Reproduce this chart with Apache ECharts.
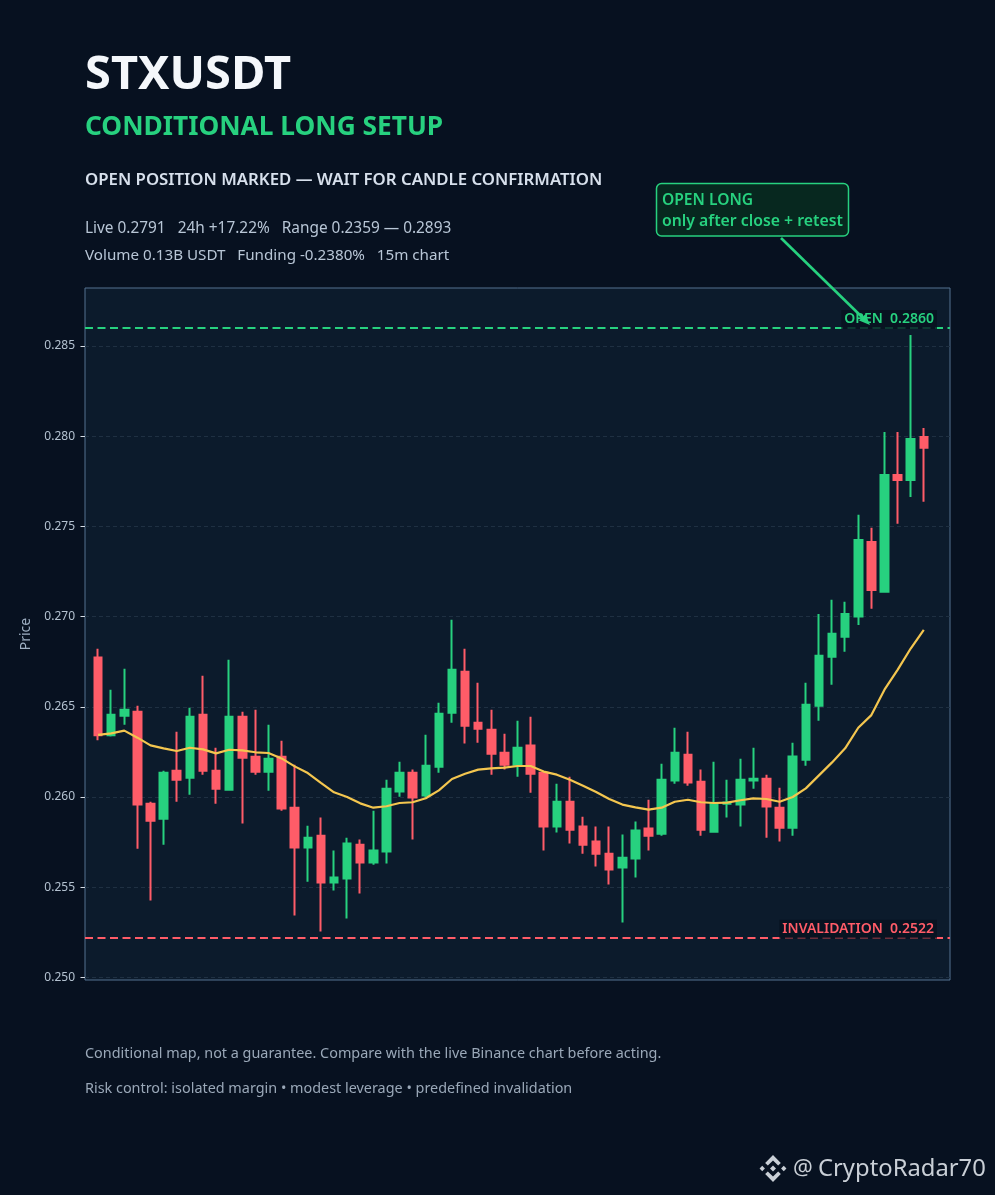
<!DOCTYPE html>
<html><head><meta charset="utf-8">
<style>html,body{margin:0;padding:0;background:#071120}#c{width:995px;height:1195px}</style>
<script src="https://cdn.jsdelivr.net/npm/echarts@6/dist/echarts.min.js"></script>
</head><body><div id="c"></div>
<script>
// Values: [open, close, low, high]
const candles = [
[.26773,.26342,.26314,.26822],[.26342,.26456,.26336,.26594],[.26450,.26484,.26401,.26711],[.26473,.25958,.25714,.26506],
[.25963,.25869,.25426,.25974],[.25880,.26135,.25736,.26146],[.26146,.26096,.25974,.26362],[.26107,.26445,.26013,.26495],
[.26456,.26146,.26124,.26672],[.26146,.26046,.25963,.26273],[.26041,.26445,.26035,.26761],[.26445,.26218,.25853,.26473],
[.26223,.26140,.26124,.26484],[.26140,.26212,.26035,.26401],[.26223,.25936,.25924,.26312],[.25941,.25720,.25343,.26179],
[.25720,.25775,.25531,.25841],[.25786,.25526,.25255,.25886],[.25526,.25554,.25482,.25703],[.25548,.25742,.25327,.25775],
[.25736,.25637,.25465,.25764],[.25637,.25703,.25625,.25924],[.25698,.26046,.25631,.26096],[.26030,.26135,.26002,.26196],
[.26135,.25997,.25764,.26152],[.26008,.26174,.25997,.26345],[.26168,.26462,.26135,.26523],[.26467,.26705,.26412,.26983],
[.26694,.26395,.26296,.26822],[.26412,.26379,.26301,.26633],[.26373,.26240,.26124,.26484],[.26246,.26179,.26152,.26351],
[.26179,.26273,.26113,.26423],[.26285,.26129,.26024,.26445],[.26135,.25836,.25703,.26135],[.25836,.25974,.25803,.26074],
[.25974,.25819,.25742,.26113],[.25836,.25736,.25686,.25891],[.25753,.25686,.25615,.25836],[.25686,.25598,.25515,.25836],
[.25609,.25664,.25304,.25792],[.25659,.25814,.25554,.25864],[.25825,.25786,.25703,.25985],[.25797,.26096,.25786,.26185],
[.26091,.26246,.26074,.26384],[.26235,.26080,.26063,.26362],[.26085,.25819,.25786,.26152],[.25808,.25967,.25803,.26196],
[.25963,.25970,.25886,.26096],[.25958,.26096,.25836,.26212],[.26091,.26101,.26046,.26273],[.26101,.25947,.25775,.26124],
[.25941,.25830,.25753,.26052],[.25830,.26224,.25786,.26301],[.26207,.26511,.26174,.26633],[.26506,.26783,.26423,.27015],
[.26777,.26905,.26622,.27093],[.26888,.27015,.26805,.27082],[.27001,.27425,.26954,.27564],[.27414,.27148,.27043,.27492],
[.27137,.27785,.27132,.28023],[.27785,.27757,.27514,.28023],[.27757,.27984,.27663,.28560],[.27995,.27935,.27636,.28045]
];
const maLine = [
.26344,.26353,.26368,.26329,.26286,.26270,.26255,.26273,.26264,.26242,.26262,.26259,.26248,.26244,.26214,.26170,
.26133,.26078,.26026,.26000,.25965,.25941,.25949,.25967,.25971,.25993,.26037,.26100,.26129,.26152,.26159,.26163,
.26172,.26172,.26141,.26124,.26096,.26063,.26028,.25989,.25958,.25943,.25930,.25941,.25974,.25985,.25971,.25967,
.25969,.25982,.25993,.25989,.25974,.26000,.26048,.26120,.26192,.26270,.26384,.26454,.26595,.26705,.26823,.26927
];
const yTicks = [.250,.255,.260,.265,.270,.275,.280,.285];
const openLevel = 0.2860, invalidationLevel = 0.2522;
const leftPad = 1, rightPad = 2;

const GREEN='#27d17f', RED='#ff5c68', FF='"Noto Sans", sans-serif';
const cats = Array.from({length: leftPad+candles.length+rightPad},(_, i)=>String(i));
const pad = (arr)=>[...Array(leftPad).fill('-'),...arr,...Array(rightPad).fill('-')];

function txt(x,y,text,size,color,weight){
  return {type:'text',x,y,silent:true,z:50,style:{text,x:0,y:0,fill:color,font:`${weight||'normal'} ${size}px ${FF}`,textVerticalAlign:'middle',textBaseline:'middle'}};
}
function levelLine(value,color,label){
  return {
    silent:true,symbol:'none',animation:false,precision:4,
    lineStyle:{color,width:2,type:[8,4.5],opacity:1},
    label:{show:true,formatter:label,position:'insideEndTop',color,fontFamily:FF,fontWeight:600,fontSize:14,
      backgroundColor:'rgba(7,17,31,0.8)',padding:[2,3,3,3],distance:[13,-1]},
    data:[{yAxis:value}]
  };
}
const chart = echarts.init(document.getElementById('c'),null,{renderer:'canvas'});
chart.setOption({
  animation:false,
  backgroundColor:'#071120',
  grid:{left:85,right:45,top:288,bottom:215,show:true,backgroundColor:'#0c1b2c',borderColor:'#557390',borderWidth:1},
  xAxis:{type:'category',data:cats,boundaryGap:false,axisLine:{show:false},axisTick:{show:false},axisLabel:{show:false},splitLine:{show:false}},
  yAxis:{type:'value',scale:true,min:0.24986,max:0.28821,name:'Price',nameLocation:'middle',nameGap:49,
    nameTextStyle:{color:'#9fb0c3',fontFamily:FF,fontSize:14},
    axisLine:{show:false},
    axisTick:{show:true,length:4.5,lineStyle:{color:'#d5dde6',width:1},customValues:yTicks},
    axisLabel:{color:'#b4c2d0',fontFamily:FF,fontSize:12,margin:10,customValues:yTicks,formatter:v=>v.toFixed(3)},
    splitLine:{show:true,lineStyle:{color:'#1f3042',width:1,type:[4,3]}}
  },
  series:[
    {type:'candlestick',data:pad(candles),barWidth:8,z:3,
      itemStyle:{color:GREEN,color0:RED,borderColor:GREEN,borderColor0:RED,borderWidth:2},
      markLine:levelLine(openLevel,GREEN,'OPEN  0.2860')},
    {type:'line',data:pad(maLine),showSymbol:false,symbol:'none',smooth:false,z:4,connectNulls:false,
      lineStyle:{color:'#f4c64f',width:2.2},itemStyle:{color:'#f4c64f'},
      markLine:levelLine(invalidationLevel,RED,'INVALIDATION  0.2522')}
  ],
  graphic:[
    txt(85,76,'STXUSDT',47,'#f4f7fb','bold'),
    txt(85,128,'CONDITIONAL LONG SETUP',26.3,GREEN,'bold'),
    txt(85,180,'OPEN POSITION MARKED — WAIT FOR CANDLE CONFIRMATION',16.8,'#d7e0ec','600'),
    txt(85,229,'Live 0.2791   24h +17.22%   Range 0.2359 — 0.2893',15.4,'#b8c6d6'),
    txt(85,256,'Volume 0.13B USDT   Funding -0.2380%   15m chart',15.2,'#b8c6d6'),
    txt(85,1054,'Conditional map, not a guarantee. Compare with the live Binance chart before acting.',14.4,'#9aa8b8'),
    txt(85,1089,'Risk control: isolated margin • modest leverage • predefined invalidation',14.4,'#9aa8b8'),
    {type:'rect',shape:{x:656.5,y:183.5,width:192,height:52.5,r:5},z:40,style:{fill:'#07281f',stroke:GREEN,lineWidth:1.5}},
    txt(662,200.5,'OPEN LONG',15.6,GREEN,'600'),
    txt(662,221.5,'only after close + retest',15.8,GREEN,'600'),
    {type:'line',shape:{x1:781,y1:238,x2:865,y2:320},z:60,style:{stroke:GREEN,lineWidth:2.6}},
    {type:'polygon',shape:{points:[[870,325],[859,320.5],[865.5,314]]},z:60,style:{fill:GREEN}},
    {type:'group',x:773,y:1168.5,z:60,silent:true,scaleX:1.12,scaleY:1.12,children:[
      {type:'polygon',shape:{points:[[0,-12],[7,-5],[4.6,-2.6],[0,-7.2],[-4.6,-2.6],[-7,-5]]},style:{fill:'#c9cfd6'}},
      {type:'polygon',shape:{points:[[0,12],[7,5],[4.6,2.6],[0,7.2],[-4.6,2.6],[-7,5]]},style:{fill:'#c9cfd6'}},
      {type:'polygon',shape:{points:[[0,-2.7],[2.7,0],[0,2.7],[-2.7,0]]},style:{fill:'#c9cfd6'}},
      {type:'polygon',shape:{points:[[-9.6,-2.4],[-7.2,0],[-9.6,2.4],[-12,0]]},style:{fill:'#c9cfd6'}},
      {type:'polygon',shape:{points:[[9.6,-2.4],[12,0],[9.6,2.4],[7.2,0]]},style:{fill:'#c9cfd6'}}
    ]},
    txt(793,1169,'@',22,'#c9cfd6'),
    txt(818,1169,'CryptoRadar70',23.8,'#c9cfd6')
  ]
});
</script></body></html>
